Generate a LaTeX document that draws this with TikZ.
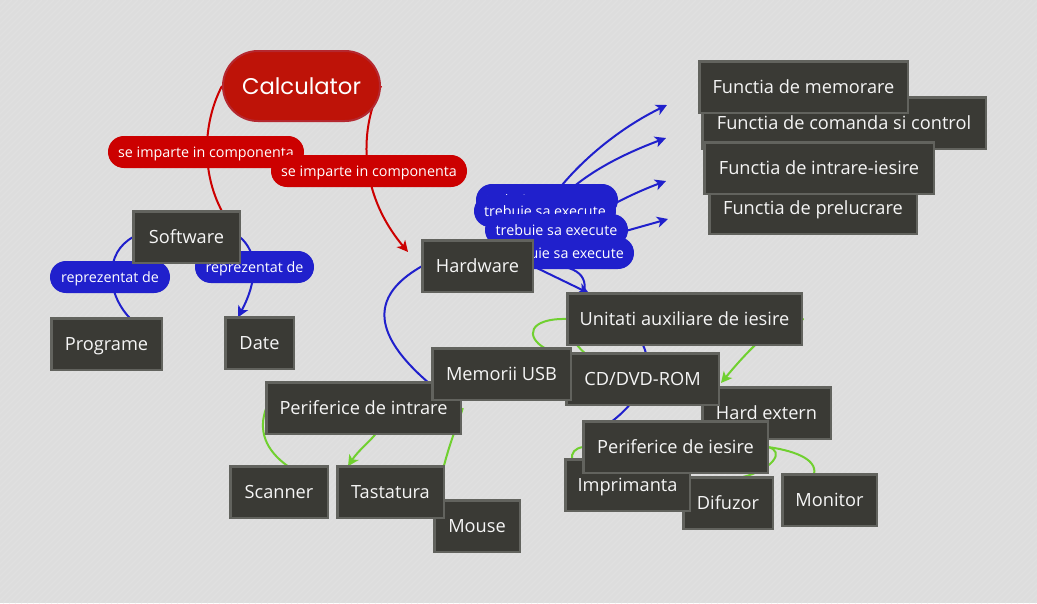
\documentclass[tikz,border=0pt]{standalone}
\usepackage{fontspec}
\setmainfont{Open Sans}
\newfontfamily\titlefont{Poppins}
\usetikzlibrary{arrows.meta,calc}
\pgfdeclarelayer{bgl}\pgfdeclarelayer{edgel}\pgfdeclarelayer{labell}
\pgfsetlayers{bgl,edgel,labell,main}
\definecolor{bgc}{HTML}{DDDDDD}
\definecolor{hatch}{HTML}{E0E0E0}
\definecolor{boxf}{HTML}{3A3A35}
\definecolor{boxd}{HTML}{62635E}
\definecolor{redc}{HTML}{CC0000}
\definecolor{bluec}{HTML}{2020CC}
\definecolor{greenc}{HTML}{70D030}
\definecolor{rootf}{HTML}{BE1308}
\definecolor{rootd}{HTML}{B5282F}
\tikzset{
 x=1pt,y=-1pt,
 boxn/.style={rectangle,fill=boxf,draw=boxd,line width=2.5pt,text=white!95!boxf,minimum height=51.5pt,inner sep=0pt,outer sep=0pt,font=\fontsize{18.2}{20}\selectfont,text height=17pt,text depth=3.5pt,align=center},
 pill/.style={rectangle,rounded corners=15.9pt,text=white,minimum height=32pt,minimum width=#1,inner sep=0pt,outer sep=0pt,font=\fontsize{14.3}{16}\selectfont,text height=13pt,text depth=3pt},
 redpill/.style={pill=#1,fill=redc},
 bluepill/.style={pill=#1,fill=bluec},
 edgeb/.style={line width=2pt,draw=#1},
 tipb/.style={edgeb=#1,-{Stealth[length=11pt,width=11pt,inset=3pt]}},
}
\begin{document}
\begin{tikzpicture}
\useasboundingbox (0,0) rectangle (1037,603);
\begin{pgfonlayer}{bgl}
\fill[bgc] (0,0) rectangle (1037,603);
\begin{scope}
\clip (0,0) rectangle (1037,603);
\foreach \i in {0,6,...,1650}{\draw[hatch,line width=1.2pt] (\i,0) -- (\i-603,603);}
\end{scope}
\end{pgfonlayer}
% nodes
\node[rectangle,rounded corners=35pt,fill=rootf,draw=rootd,line width=2pt,text=white,minimum width=157pt,minimum height=70pt,inner sep=0pt,text height=21pt,text depth=4pt,font=\titlefont\fontsize{22.7}{28}\selectfont] (calc) at (301.5,86) {Calculator};
\node[boxn,minimum width=106.5pt] (soft) at (186.5,237) {Software};
\node[boxn,minimum width=110.5pt] (prog) at (106.5,344) {Programe};
\node[boxn,minimum width=68.5pt] (date) at (259.5,343) {Date};
\node[boxn,minimum width=110.5pt] (hw) at (477.5,266) {Hardware};
\node[boxn,minimum width=128.5pt] (hard) at (766.5,413) {Hard extern};
\node[boxn,minimum width=152.5pt] (cd) at (642.5,379) {CD/DVD-ROM};
\node[boxn,minimum width=234.5pt] (unit) at (684.5,319) {Unitati auxiliare de iesire};
\node[boxn,minimum width=194.5pt] (intr) at (363.5,408) {Periferice de intrare};
\node[boxn,minimum width=138.5pt] (usb) at (501.5,374) {Memorii USB};
\node[boxn,minimum width=97.5pt] (scan) at (279,492) {Scanner};
\node[boxn,minimum width=85.5pt] (mouse) at (477,526) {Mouse};
\node[boxn,minimum width=106.5pt] (tast) at (390.5,492) {Tastatura};
\node[boxn,minimum width=89.5pt] (dif) at (728,503) {Difuzor};
\node[boxn,minimum width=124.5pt] (impr) at (627.5,485) {Imprimanta};
\node[boxn,minimum width=94.5pt] (mon) at (829.5,500) {Monitor};
\node[boxn,minimum width=184.5pt] (ies) at (675.5,447) {Periferice de iesire};
\node[boxn,minimum width=207.5pt] (prel) at (813,208) {Functia de prelucrare};
\node[boxn,minimum width=283.5pt] (com) at (844,123) {Functia de comanda si control};
\node[boxn,minimum width=229.5pt] (inout) at (819,168) {Functia de intrare-iesire};
\node[boxn,minimum width=208.5pt] (mem) at (803.5,87) {Functia de memorare};
% labels
\begin{pgfonlayer}{labell}
\node[redpill=196pt] (l1) at (206,152) {se imparte in componenta};
\node[redpill=196pt] (l2) at (369,171) {se imparte in componenta};
\node[bluepill=120pt] (l3) at (110,277) {reprezentat de};
\node[bluepill=119pt] (l4) at (254.5,267) {reprezentat de};
\node[bluepill=142pt] (l5) at (547,200) {trebuie sa execute};
\node[bluepill=142pt] (l6) at (545,211) {trebuie sa execute};
\node[bluepill=143pt] (l7) at (556.5,230) {trebuie sa execute};
\node[bluepill=142pt] (l8) at (563,253) {trebuie sa execute};
\end{pgfonlayer}
\coordinate (hwt) at (408,252);
\coordinate (f1) at (667,105);
\coordinate (f2) at (666,138);
\coordinate (f3) at (666,181);
\coordinate (f4) at (668,219);
% connectors
\begin{pgfonlayer}{edgel}
\draw[edgeb=redc] (calc.west) .. controls (204,120) and (200,170) .. (soft.north -| 222,0);
\draw[tipb=redc] (calc.east) .. controls (361,125) and (356,190) .. (hwt);
\draw[edgeb=bluec] (soft.west) .. controls (105,252) and (105,292) .. (prog.north -| 130,0);
\draw[tipb=bluec] (soft.east) .. controls (258,252) and (258,280) .. (date.north -| 238,0);
\draw[edgeb=bluec] (hw.west) .. controls (380,290) and (362,325) .. (intr.north -| 428,0);
\draw[tipb=bluec] (hw.east) .. controls (515,225) and (585,145) .. (f1);
\draw[tipb=bluec] (hw.east) .. controls (530,215) and (575,172) .. (f2);
\draw[tipb=bluec] (hw.east) .. controls (560,230) and (620,198) .. (f3);
\draw[tipb=bluec] (hw.east) .. controls (570,245) and (630,230) .. (f4);
\draw[tipb=bluec] (hw.east) -- (unit.north -| 589,0);
\draw[edgeb=bluec] (hw.east) .. controls (575,262) and (590,275) .. (583,295) .. controls (578,300) and (625,320) .. (643,345) .. controls (655,370) and (640,400) .. (ies.north -| 612,0);
\draw[edgeb=greenc] (unit.west) .. controls (528,318) and (525,337) .. (usb.north -| 545,0);
\draw[edgeb=greenc] (unit.west) .. controls (566,330) and (575,345) .. (cd.north -| 585,0);
\draw[tipb=greenc] (unit.east) ++(2,0) .. controls (785,319) and (765,330) .. (721,383);
\draw[edgeb=greenc] (intr.west) .. controls (258,430) and (265,450) .. (scan.north -| 288,0);
\draw[tipb=greenc] (intr.center) .. controls (400,425) and (365,440) .. (tast.north -| 348,0);
\draw[edgeb=greenc] (intr.east) ++(2,0) .. controls (458,425) and (447,445) .. (mouse.north -| 436,0);
\draw[edgeb=greenc] (ies.west) .. controls (575,448) and (571,453) .. (impr.north -| 572,0);
\draw[edgeb=greenc] (ies.east) .. controls (786,451) and (772,470) .. (dif.north -| 742,0);
\draw[edgeb=greenc] (ies.east) .. controls (790,450) and (818,458) .. (mon.north -| 814,0);
\end{pgfonlayer}
\end{tikzpicture}
\end{document}
